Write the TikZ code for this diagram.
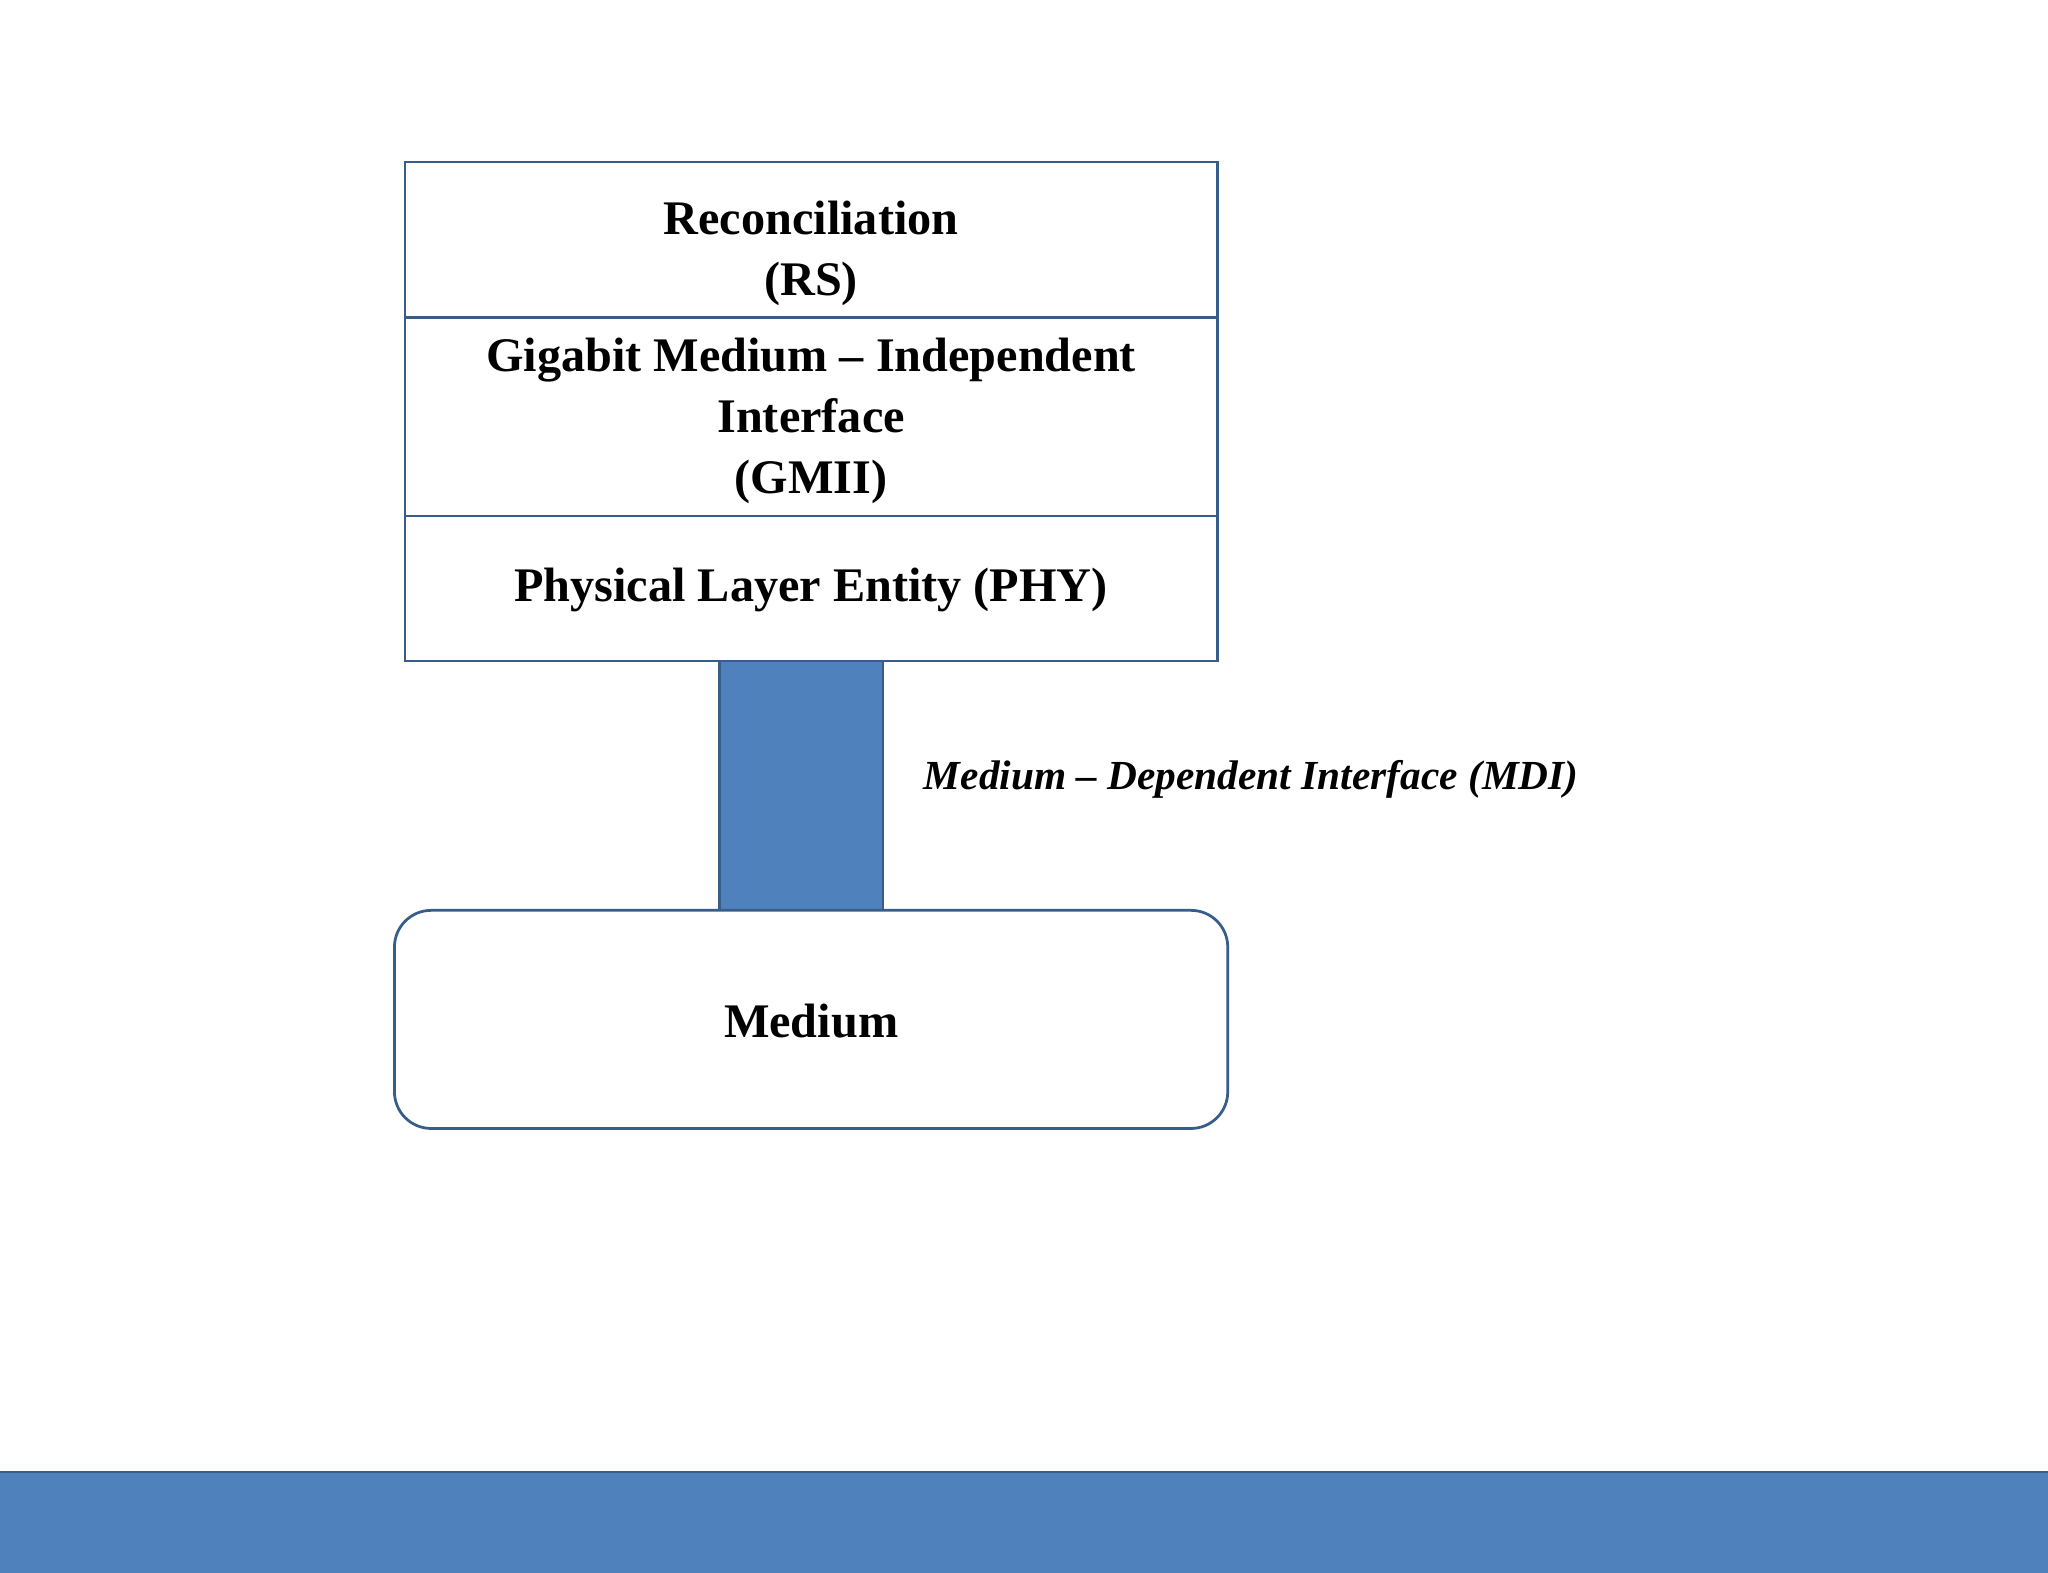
\documentclass[tikz,border=0pt]{standalone}
\usepackage{fontspec}
\setmainfont{Liberation Serif}
\begin{document}
\begin{tikzpicture}[x=0.01cm,y=-0.01cm,
  ln/.style={draw=lineblue,line width=0.6pt},
  lbl/.style={font=\fontsize{10.5}{13.3}\selectfont\bfseries,align=center}]
\definecolor{lineblue}{HTML}{385D8A}
\definecolor{fillblue}{HTML}{4F81BD}
\useasboundingbox (0,0) rectangle (1568,1204);
\fill[white] (0,0) rectangle (1568,1204);
\draw[ln,fill=fillblue] (-2,1127) rectangle (1570,1206);
\draw[ln,fill=fillblue] (551,506) rectangle (676,697);
\draw[ln] (310,124) rectangle (932,506);
\draw[ln] (310,243) -- (932,243);
\draw[ln] (310,395) -- (932,395);
\draw[ln,fill=white,rounded corners=8pt] (302,697) rectangle (940,864);
\node[lbl] (rs) at (621,194) {Reconciliation\\(RS)};
\node[lbl] (gmii) at (621,322) {Gigabit Medium -- Independent\\Interface\\(GMII)};
\node[lbl] (phy) at (621,452) {Physical Layer Entity (PHY)};
\node[lbl] (med) at (621,782) {Medium};
\node[lbl,anchor=west,font=\fontsize{9}{11}\selectfont\bfseries\itshape] (mdi) at (695,597) {Medium -- Dependent Interface (MDI)};
\end{tikzpicture}
\end{document}
